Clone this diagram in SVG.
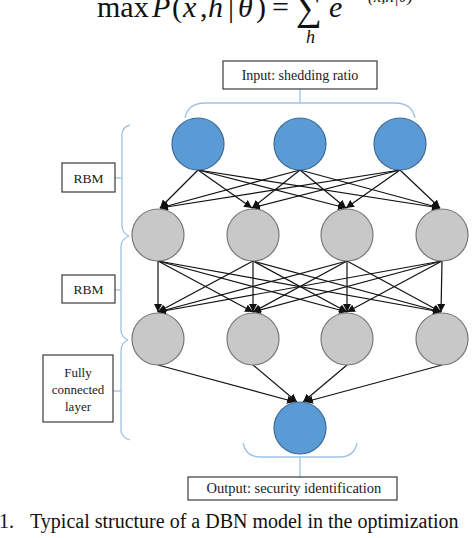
<svg xmlns="http://www.w3.org/2000/svg" width="474" height="538" viewBox="0 0 474 538">
<style>
.lbl{font-family:"Liberation Serif","Times New Roman",serif;fill:#1a1a1a;text-anchor:middle}
.fm{font-family:"Liberation Serif","Times New Roman",serif;fill:#111}
.it{font-style:italic}
.box{fill:#fff;stroke:#3a3a3a;stroke-width:1.2}
.blue{fill:#5B9BD5;stroke:#3d6a94;stroke-width:1.2}
.gray{fill:#C8C8C8;stroke:#777;stroke-width:1.2}
.brace{fill:none;stroke:#9DC3E6;stroke-width:1.3}
.edge{stroke:#111;stroke-width:1.2;fill:none;marker-end:url(#arr)}
</style>
<defs>
<marker id="arr" markerUnits="userSpaceOnUse" markerWidth="9" markerHeight="8" refX="8" refY="4" orient="auto">
<path d="M0,0 L8,4 L0,8 Z" fill="#111"/>
</marker>
</defs>
<rect width="474" height="538" fill="#fff"/>

<g id="formula">
<text class="fm" x="97" y="17" font-size="30">max</text>
<text class="fm it" x="152" y="17" font-size="30">P</text>
<text class="fm" x="172" y="17" font-size="30">(</text>
<text class="fm it" x="183" y="17" font-size="30">x</text>
<text class="fm" x="200" y="17" font-size="30">,</text>
<text class="fm it" x="208" y="17" font-size="30">h</text>
<text class="fm" x="228" y="17" font-size="30">|</text>
<text class="fm it" x="238" y="17" font-size="30">θ</text>
<text class="fm" x="256" y="17" font-size="30">)</text>
<text class="fm" x="272" y="17" font-size="30">=</text>
<text class="fm" x="296" y="20" font-size="36">∑</text>
<text class="fm it" x="306" y="43" font-size="18">h</text>
<text class="fm it" x="329" y="17" font-size="30">e</text>
<text class="fm it" x="368" y="2" font-size="17">(x,h|θ)</text>
</g>

<g id="braces">
<path class="brace" d="M185,118 Q188,103 205,103 L395,103 Q412,103 415,118"/>
<line class="brace" x1="300" y1="89" x2="300" y2="103"/>
<path class="brace" d="M130,125 Q122,127 122,135 L122,226 Q122,233 129,236"/>
<line class="brace" x1="115" y1="178" x2="122" y2="178"/>
<path class="brace" d="M129,236 Q121,239 121,247 L121,330 Q121,337 128,340"/>
<line class="brace" x1="115" y1="290" x2="121" y2="290"/>
<path class="brace" d="M128,340 Q121,343 121,351 L121,430 Q121,437 130,440"/>
<line class="brace" x1="113" y1="391" x2="121" y2="391"/>
<path class="brace" d="M243,443 Q246,457 260,457 L340,457 Q354,457 357,443"/>
<line class="brace" x1="300" y1="457" x2="300" y2="477"/>
</g>

<g id="connectors">
<line class="edge" x1="198" y1="170" x2="160" y2="208"/>
<line class="edge" x1="198" y1="170" x2="252" y2="208"/>
<line class="edge" x1="198" y1="170" x2="346" y2="208"/>
<line class="edge" x1="198" y1="170" x2="440" y2="208"/>
<line class="edge" x1="300" y1="170" x2="160" y2="208"/>
<line class="edge" x1="300" y1="170" x2="252" y2="208"/>
<line class="edge" x1="300" y1="170" x2="346" y2="208"/>
<line class="edge" x1="300" y1="170" x2="440" y2="208"/>
<line class="edge" x1="400" y1="170" x2="160" y2="208"/>
<line class="edge" x1="400" y1="170" x2="252" y2="208"/>
<line class="edge" x1="400" y1="170" x2="346" y2="208"/>
<line class="edge" x1="400" y1="170" x2="440" y2="208"/>

<line class="edge" x1="158" y1="261" x2="158" y2="312"/>
<line class="edge" x1="158" y1="261" x2="253" y2="312"/>
<line class="edge" x1="158" y1="261" x2="347" y2="312"/>
<line class="edge" x1="158" y1="261" x2="441" y2="312"/>
<line class="edge" x1="253" y1="261" x2="158" y2="312"/>
<line class="edge" x1="253" y1="261" x2="253" y2="312"/>
<line class="edge" x1="253" y1="261" x2="347" y2="312"/>
<line class="edge" x1="253" y1="261" x2="441" y2="312"/>
<line class="edge" x1="347" y1="261" x2="158" y2="312"/>
<line class="edge" x1="347" y1="261" x2="253" y2="312"/>
<line class="edge" x1="347" y1="261" x2="347" y2="312"/>
<line class="edge" x1="347" y1="261" x2="441" y2="312"/>
<line class="edge" x1="442" y1="261" x2="158" y2="312"/>
<line class="edge" x1="442" y1="261" x2="253" y2="312"/>
<line class="edge" x1="442" y1="261" x2="347" y2="312"/>
<line class="edge" x1="442" y1="261" x2="441" y2="312"/>

<line class="edge" x1="158" y1="365" x2="295" y2="402"/>
<line class="edge" x1="253" y1="365" x2="297" y2="402"/>
<line class="edge" x1="347" y1="365" x2="303" y2="402"/>
<line class="edge" x1="442" y1="365" x2="305" y2="402"/>
</g>

<g id="input-label"><rect class="box" x="223" y="61" width="154" height="28"/><text class="lbl" x="300" y="80" font-size="14">Input: shedding ratio</text></g>
<g id="output-label"><rect class="box" x="188" y="477" width="209" height="23"/><text class="lbl" x="294" y="493" font-size="14.5">Output: security identification</text></g>
<g id="rbm1"><rect class="box" x="62" y="163" width="53" height="29"/><text class="lbl" x="88.5" y="182.5" font-size="13.5">RBM</text></g>
<g id="rbm2"><rect class="box" x="62" y="275" width="53" height="28"/><text class="lbl" x="88.5" y="294" font-size="13.5">RBM</text></g>
<g id="fc"><rect class="box" x="43" y="355" width="70" height="67"/><text class="lbl" x="78" y="377" font-size="13">Fully</text><text class="lbl" x="78" y="394" font-size="13">connected</text><text class="lbl" x="78" y="411" font-size="13">layer</text></g>

<g id="in1"><circle class="blue" cx="198" cy="144" r="26"/></g>
<g id="in2"><circle class="blue" cx="300" cy="144" r="26"/></g>
<g id="in3"><circle class="blue" cx="400" cy="144" r="26"/></g>
<g id="h1a"><circle class="gray" cx="158" cy="235" r="26"/></g>
<g id="h1b"><circle class="gray" cx="253" cy="235" r="26"/></g>
<g id="h1c"><circle class="gray" cx="347" cy="235" r="26"/></g>
<g id="h1d"><circle class="gray" cx="442" cy="235" r="26"/></g>
<g id="h2a"><circle class="gray" cx="158" cy="339" r="26"/></g>
<g id="h2b"><circle class="gray" cx="253" cy="339" r="26"/></g>
<g id="h2c"><circle class="gray" cx="347" cy="339" r="26"/></g>
<g id="h2d"><circle class="gray" cx="442" cy="339" r="26"/></g>
<g id="out"><circle class="blue" cx="300" cy="428" r="26"/></g>

<g id="caption"><text class="fm" x="-1" y="528" font-size="20">1.</text><text class="fm" x="30" y="528" font-size="20">Typical structure of a DBN model in the optimization</text></g>
</svg>
